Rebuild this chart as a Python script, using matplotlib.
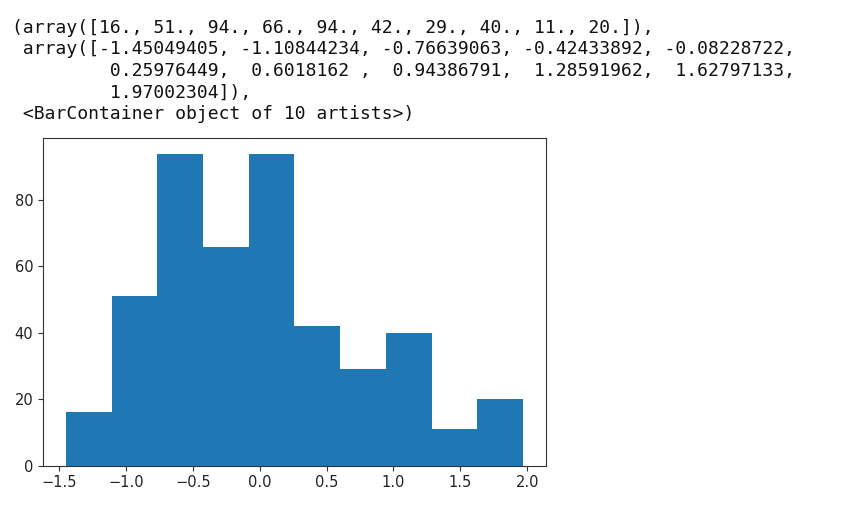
import numpy as np
import matplotlib
matplotlib.use("Agg")
import matplotlib.pyplot as plt

# histogram result printed in the notebook
counts = np.array([16., 51., 94., 66., 94., 42., 29., 40., 11., 20.])
edges = np.array([-1.45049405, -1.10844234, -0.76639063, -0.42433892, -0.08228722,
                  0.25976449, 0.6018162, 0.94386791, 1.28591962, 1.62797133,
                  1.97002304])

out_lines = [
    "(array([16., 51., 94., 66., 94., 42., 29., 40., 11., 20.]),",
    " array([-1.45049405, -1.10844234, -0.76639063, -0.42433892, -0.08228722,",
    "         0.25976449,  0.6018162 ,  0.94386791,  1.28591962,  1.62797133,",
    "         1.97002304]),",
    " <BarContainer object of 10 artists>)",
]


def main():
    W, H = 843, 526
    fig = plt.figure(figsize=(W / 100, H / 100), dpi=100)

    # notebook output text above the plot
    y0 = 28
    for i, line in enumerate(out_lines):
        fig.text(12 / W, 1 - (y0 + i * 21.5) / H, line, ha="left", va="center",
                 family="DejaVu Sans Mono", fontsize=13, color="#111111")

    ax = fig.add_axes([43 / W, 1 - 465.5 / H, (546 - 43) / W, (465.5 - 138) / H])
    ax.hist(edges[:-1], bins=edges, weights=counts, color="#1f77b4")

    for s in ax.spines.values():
        s.set_color("#333333")
    ax.tick_params(labelsize=10.5, colors="#333333", labelcolor="#222222")

    fig.savefig("out.png", dpi=100)


if __name__ == "__main__":
    main()
